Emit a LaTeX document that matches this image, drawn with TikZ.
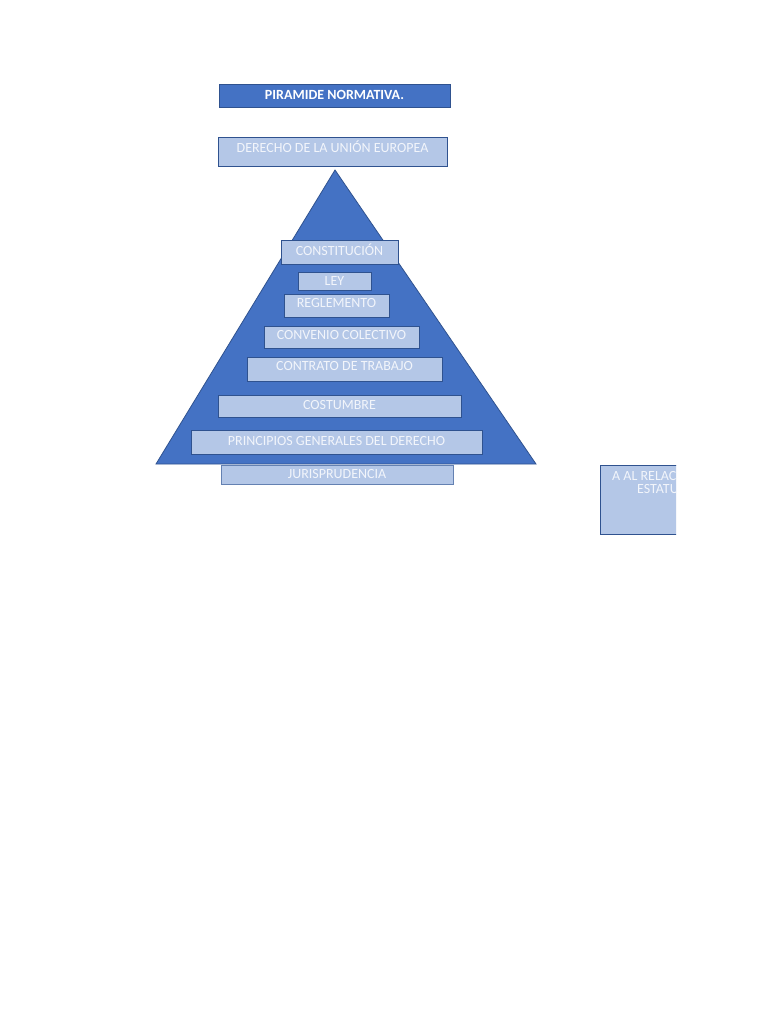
\documentclass[tikz,border=0pt]{standalone}
\usepackage{fontspec}
\setmainfont{Carlito}
\definecolor{dblue}{HTML}{4472C4}
\definecolor{eblue}{HTML}{2F528F}
\definecolor{lblue}{HTML}{B4C7E7}
\definecolor{ltxt}{HTML}{F2F5FB}
\begin{document}
\begin{tikzpicture}[x=1pt,y=-1pt,
  lbox/.style={draw=eblue,line width=0.8pt,fill=lblue},
  ltext/.style={text=ltxt,font=\fontsize{14}{15}\selectfont,inner sep=0pt,anchor=center},
  ]
\useasboundingbox (0,0) rectangle (768,1024);
\fill[white] (0,0) rectangle (768,1024);
% title
\draw[draw=eblue,line width=0.8pt,fill=dblue] (219,84) rectangle (450,107);
\node[text=white,font=\bfseries\fontsize{14}{15}\selectfont,inner sep=0pt] (title) at (334.5,94.5) {PIRAMIDE NORMATIVA.};
% EU
\draw[lbox] (218,137) rectangle (447,166);
\node[ltext] (eu) at (332.5,147) {DERECHO DE LA UNIÓN EUROPEA};
% pyramid
\draw[draw=eblue,line width=0.8pt,fill=dblue] (335,170) -- (536,464) -- (156,464) -- cycle;
% levels
\draw[lbox] (281,240) rectangle (398,264);
\node[ltext] (cons) at (339.5,249.5) {CONSTITUCIÓN};
\draw[lbox] (298,272) rectangle (371,290);
\node[ltext] (ley) at (334.5,281) {LEY};
\draw[lbox] (284,294) rectangle (389,317);
\node[ltext] (regl) at (336.5,303.5) {REGLEMENTO};
\draw[lbox] (264,326) rectangle (419,348);
\node[ltext] (conv) at (341.5,335) {CONVENIO COLECTIVO};
\draw[lbox] (247,357) rectangle (442,381);
\node[ltext] (cont) at (344.5,366.5) {CONTRATO DE TRABAJO};
\draw[lbox] (218,395) rectangle (461,417);
\node[ltext] (cost) at (339.5,405) {COSTUMBRE};
\draw[lbox] (191,430) rectangle (482,454);
\node[ltext] (prin) at (336.5,441) {PRINCIPIOS GENERALES DEL DERECHO};
\draw[lbox,draw=eblue!60!lblue] (221,465) rectangle (453,484);
\node[ltext] (juri) at (337,474) {JURISPRUDENCIA};
% right clipped box
\begin{scope}
\clip (590,455) rectangle (676,545);
\draw[lbox] (600,465) rectangle (760,534);
\node[ltext,anchor=west] (rel1) at (612,475) {A AL RELACIÓN};
\node[ltext,anchor=west] (rel2) at (637,489) {ESTATUTO};
\end{scope}
\end{tikzpicture}
\end{document}
